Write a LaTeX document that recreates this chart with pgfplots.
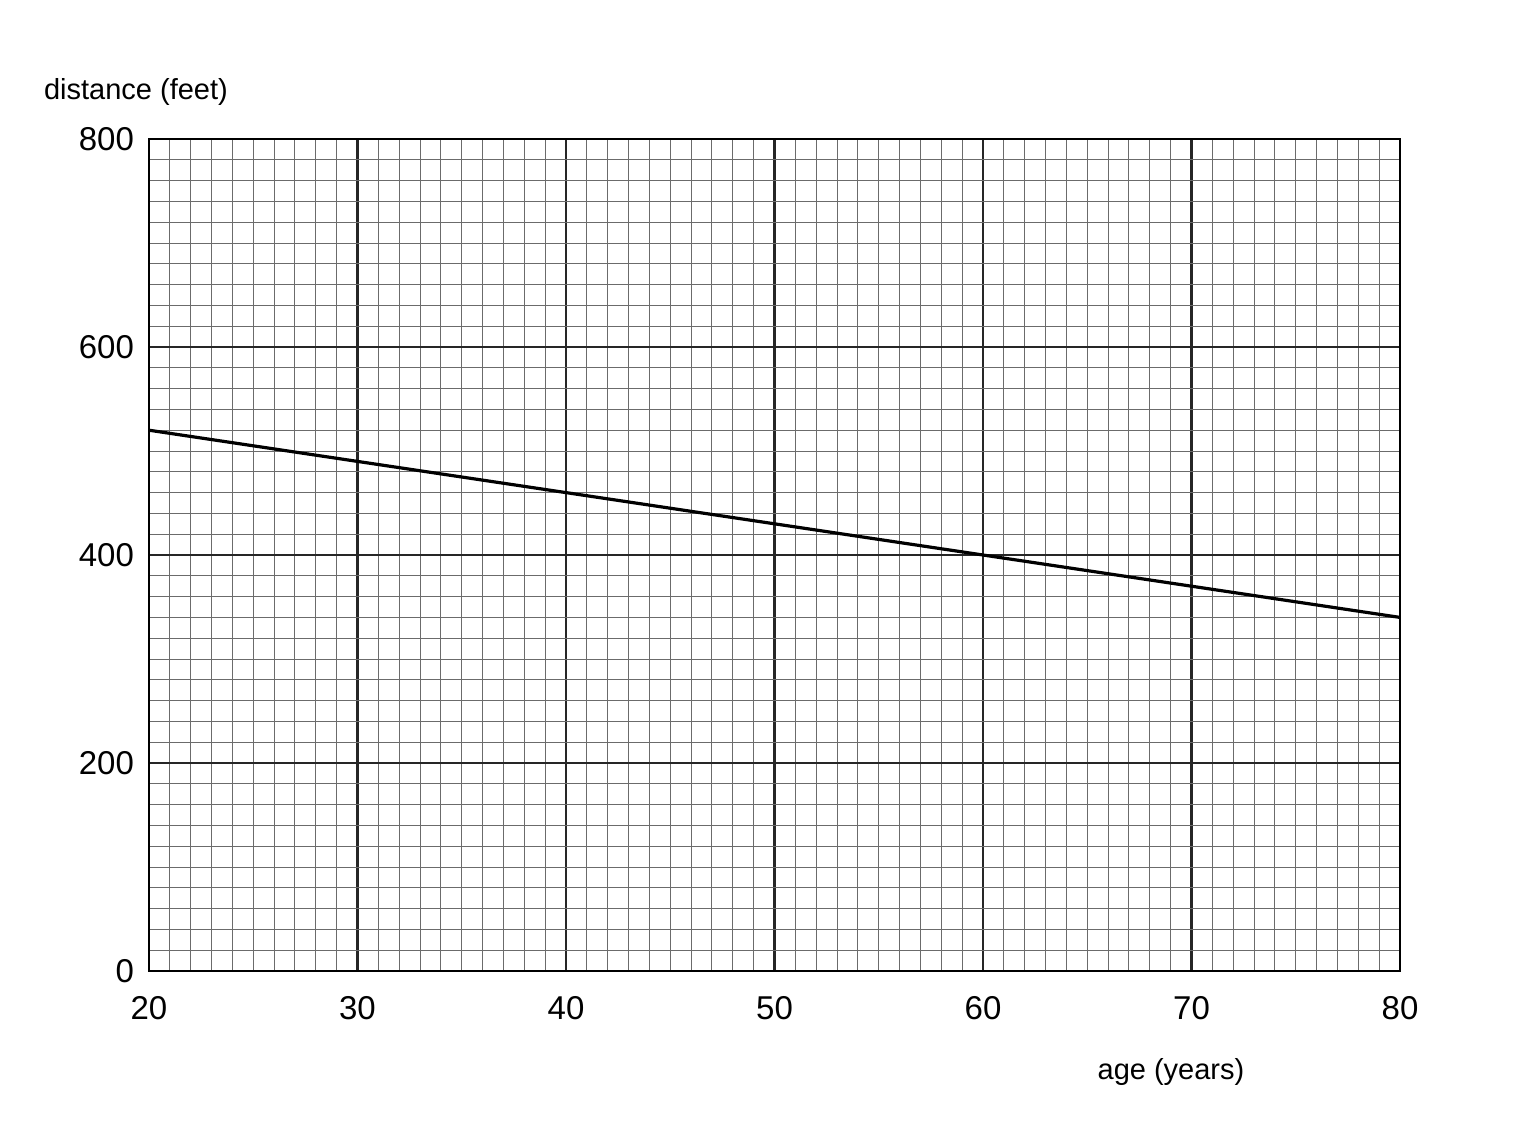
\documentclass[border=0pt]{standalone}
\usepackage{pgfplots}
\pgfplotsset{compat=1.18}
\usepackage{fontspec}
\setmainfont{Liberation Sans}
\begin{document}
\begin{tikzpicture}[x=1pt,y=1pt]
\useasboundingbox (0,0) rectangle (760,568);
\begin{axis}[at={(74.5pt,82.5pt)}, anchor=south west, scale only axis,
  width=625.5pt, height=416pt,
  xmin=20,xmax=80,ymin=0,ymax=800,
  xtick={20,30,...,80}, ytick={0,200,...,800},
  minor x tick num=9, minor y tick num=9,
  grid=both,
  major grid style={black!85, line width=1.1pt},
  minor grid style={black!58, line width=0.5pt},
  axis line style={black, line width=0.9pt},
  tick style={draw=none},
  ticklabel style={font=\fontsize{16.5}{18}\selectfont},
  /pgf/number format/assume math mode=true,
  yticklabel style={xshift=-4pt},
  xticklabel style={yshift=-9pt},
]
\addplot[black, line width=1.6pt] coordinates {(20,520) (80,340)};
\end{axis}
\node at (68,522) {\fontsize{14.5}{16}\selectfont distance (feet)};
\node at (585.5,32) {\fontsize{14.5}{16}\selectfont age (years)};
\end{tikzpicture}
\end{document}
